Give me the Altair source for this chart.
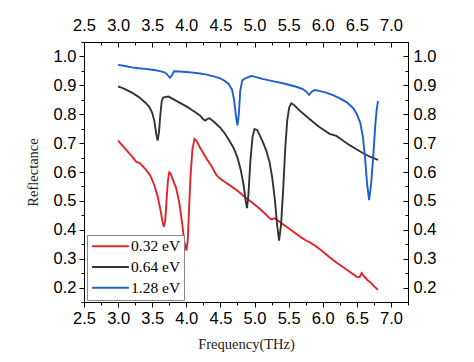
import altair as alt
import pandas as pd

series_names = ["0.32 eV", "0.64 eV", "1.28 eV"]
series_colors = ["#e3232a", "#333333", "#1c5fd0"]

red_x = [3.00, 3.10, 3.20, 3.27, 3.30, 3.33, 3.40, 3.47, 3.53, 3.58, 3.62, 3.65, 3.67, 3.69,
         3.71, 3.73, 3.75, 3.77, 3.80, 3.85, 3.90, 3.94, 3.97, 4.00, 4.02, 4.04, 4.06, 4.09,
         4.12, 4.15, 4.20, 4.25, 4.30, 4.37, 4.44, 4.48, 4.55, 4.65, 4.75, 4.85, 4.95, 5.05,
         5.15, 5.22, 5.25, 5.29, 5.32, 5.40, 5.50, 5.60, 5.70, 5.76, 5.80, 5.90, 6.00, 6.10,
         6.20, 6.30, 6.40, 6.50, 6.54, 6.57, 6.60, 6.65, 6.70, 6.75, 6.81]
red_y = [0.709, 0.682, 0.655, 0.634, 0.633, 0.628, 0.610, 0.588, 0.555, 0.515, 0.470, 0.430, 0.410, 0.430,
         0.500, 0.570, 0.599, 0.595, 0.575, 0.545, 0.490, 0.420, 0.360, 0.328, 0.360, 0.470, 0.580, 0.680,
         0.714, 0.708, 0.685, 0.665, 0.645, 0.620, 0.590, 0.580, 0.568, 0.552, 0.535, 0.515, 0.497, 0.478,
         0.457, 0.440, 0.436, 0.440, 0.436, 0.422, 0.405, 0.388, 0.371, 0.362, 0.358, 0.343, 0.325, 0.305,
         0.287, 0.270, 0.254, 0.237, 0.236, 0.250, 0.240, 0.227, 0.218, 0.205, 0.192]

black_x = [3.00, 3.05, 3.10, 3.20, 3.26, 3.30, 3.35, 3.40, 3.46, 3.50, 3.53, 3.56, 3.58, 3.60,
           3.62, 3.64, 3.66, 3.70, 3.74, 3.80, 3.90, 4.00, 4.10, 4.20, 4.25, 4.28, 4.31, 4.34,
           4.40, 4.49, 4.56, 4.63, 4.70, 4.75, 4.80, 4.84, 4.87, 4.89, 4.91, 4.94, 4.97, 5.00,
           5.04, 5.08, 5.12, 5.17, 5.22, 5.26, 5.30, 5.33, 5.36, 5.39, 5.42, 5.45, 5.48, 5.51,
           5.54, 5.58, 5.65, 5.75, 5.85, 5.95, 6.05, 6.10, 6.20, 6.30, 6.40, 6.50, 6.60, 6.70, 6.81]
black_y = [0.896, 0.892, 0.887, 0.875, 0.866, 0.860, 0.850, 0.840, 0.825, 0.805, 0.778, 0.730, 0.709, 0.740,
           0.800, 0.845, 0.858, 0.860, 0.861, 0.853, 0.840, 0.827, 0.812, 0.796, 0.782, 0.778, 0.784, 0.786,
           0.775, 0.755, 0.735, 0.709, 0.680, 0.650, 0.605, 0.555, 0.500, 0.475, 0.520, 0.640, 0.720, 0.749,
           0.745, 0.725, 0.705, 0.675, 0.635, 0.580, 0.500, 0.420, 0.362, 0.420, 0.540, 0.680, 0.780, 0.825,
           0.838, 0.832, 0.815, 0.795, 0.775, 0.756, 0.740, 0.732, 0.725, 0.708, 0.692, 0.678, 0.664, 0.652, 0.642]

blue_x = [3.00, 3.10, 3.20, 3.30, 3.40, 3.50, 3.60, 3.68, 3.72, 3.76, 3.79, 3.82, 3.90, 4.00,
          4.10, 4.20, 4.30, 4.40, 4.49, 4.56, 4.62, 4.67, 4.70, 4.73, 4.75, 4.77, 4.79, 4.82,
          4.88, 4.95, 5.00, 5.10, 5.20, 5.30, 5.40, 5.50, 5.60, 5.70, 5.76, 5.80, 5.84, 5.88,
          5.95, 6.05, 6.15, 6.25, 6.35, 6.45, 6.50, 6.55, 6.59, 6.62, 6.65, 6.68, 6.71, 6.74,
          6.77, 6.79, 6.81]
blue_y = [0.971, 0.967, 0.962, 0.959, 0.957, 0.954, 0.950, 0.945, 0.938, 0.926, 0.935, 0.949, 0.948, 0.946,
          0.944, 0.941, 0.937, 0.931, 0.925, 0.916, 0.905, 0.885, 0.850, 0.790, 0.761, 0.800, 0.880, 0.917,
          0.926, 0.932, 0.930, 0.923, 0.918, 0.913, 0.908, 0.902, 0.896, 0.888, 0.878, 0.867, 0.878, 0.884,
          0.881, 0.875, 0.866, 0.855, 0.842, 0.820, 0.800, 0.770, 0.720, 0.650, 0.560, 0.503, 0.560, 0.653,
          0.760, 0.815, 0.845]

x_major = [2.5, 3.0, 3.5, 4.0, 4.5, 5.0, 5.5, 6.0, 6.5, 7.0]
x_minor = [2.75, 3.25, 3.75, 4.25, 4.75, 5.25, 5.75, 6.25, 6.75, 7.25]
y_major = [0.2, 0.3, 0.4, 0.5, 0.6, 0.7, 0.8, 0.9, 1.0]
y_minor = [0.15, 0.25, 0.35, 0.45, 0.55, 0.65, 0.75, 0.85, 0.95, 1.05]

rows = []
for name, xs, ys in zip(series_names, [red_x, black_x, blue_x], [red_y, black_y, blue_y]):
    for xv, yv in zip(xs, ys):
        rows.append({"x": xv, "y": yv, "series": name})
df = pd.DataFrame(rows)

W, H = 324, 260
x_scale = alt.Scale(domain=[2.5, 7.25], nice=False, zero=False)
y_scale = alt.Scale(domain=[0.15, 1.05], nice=False, zero=False)

base = alt.Chart(df)

lines = base.mark_line(strokeWidth=1.9, clip=True).encode(
    x=alt.X("x:Q", scale=x_scale, axis=alt.Axis(
        orient="bottom", values=x_major, format=".1f", title="Frequency(THz)",
        tickSize=5, labelPadding=3, titlePadding=11, labelFlush=False)),
    y=alt.Y("y:Q", scale=y_scale, axis=alt.Axis(
        orient="left", values=y_major, format=".1f", title="Reflectance",
        tickSize=5, labelPadding=3, titlePadding=13)),
    color=alt.Color("series:N",
                    scale=alt.Scale(domain=series_names, range=series_colors),
                    legend=alt.Legend(title=None, orient="none", legendX=3, legendY=193,
                                      symbolType="M-1,0H5", symbolSize=150, symbolStrokeWidth=2,
                                      labelFont="Liberation Serif", labelFontSize=15.5,
                                      labelColor="black", labelOffset=25, padding=3.5,
                                      rowPadding=3.8, strokeColor="#888888", fillColor="white")),
)

minor_bl = base.mark_line(opacity=0).encode(
    x=alt.X("x:Q", scale=x_scale, axis=alt.Axis(
        orient="bottom", values=x_minor, labels=False, title="", tickSize=3, domain=False)),
    y=alt.Y("y:Q", scale=y_scale, axis=alt.Axis(
        orient="left", values=y_minor, labels=False, title="", tickSize=3, domain=False)),
)

labels_tr = base.mark_line(opacity=0).encode(
    x=alt.X("x:Q", scale=x_scale, axis=alt.Axis(
        orient="top", values=x_major, format=".1f", title="", ticks=False, tickSize=0,
        labelPadding=9, domain=False, labelFlush=False)),
    y=alt.Y("y:Q", scale=y_scale, axis=alt.Axis(
        orient="right", values=y_major, format=".1f", title="", ticks=False, tickSize=0,
        labelPadding=5, domain=False)),
)

major_in = base.mark_line(opacity=0).encode(
    x=alt.X("x:Q", scale=x_scale, axis=alt.Axis(
        orient="bottom", offset=-H, values=x_major, labels=False, title="", tickSize=5, domain=False)),
    y=alt.Y("y:Q", scale=y_scale, axis=alt.Axis(
        orient="left", offset=-W, values=y_major, labels=False, title="", tickSize=5, domain=False)),
)

minor_in = base.mark_line(opacity=0).encode(
    x=alt.X("x:Q", scale=x_scale, axis=alt.Axis(
        orient="bottom", offset=-H, values=x_minor, labels=False, title="", tickSize=3, domain=False)),
    y=alt.Y("y:Q", scale=y_scale, axis=alt.Axis(
        orient="left", offset=-W, values=y_minor, labels=False, title="", tickSize=3, domain=False)),
)

chart = alt.layer(lines, minor_bl, labels_tr, major_in, minor_in).resolve_axis(
    x="independent", y="independent"
).properties(
    width=W, height=H,
    padding={"left": 76, "top": 34, "right": 58, "bottom": 52},
    autosize=alt.AutoSizeParams(type="none"),
).configure_view(
    stroke="black", strokeWidth=1
).configure_axis(
    grid=False, domainColor="black", tickColor="black", labelColor="black",
    labelFont="Liberation Sans", labelFontSize=16.5,
    titleFont="Liberation Serif", titleFontSize=14.5, titleFontWeight="normal",
    titleColor="#222222",
)

chart.save("out.html", embed_options={"renderer": "svg", "actions": False})
